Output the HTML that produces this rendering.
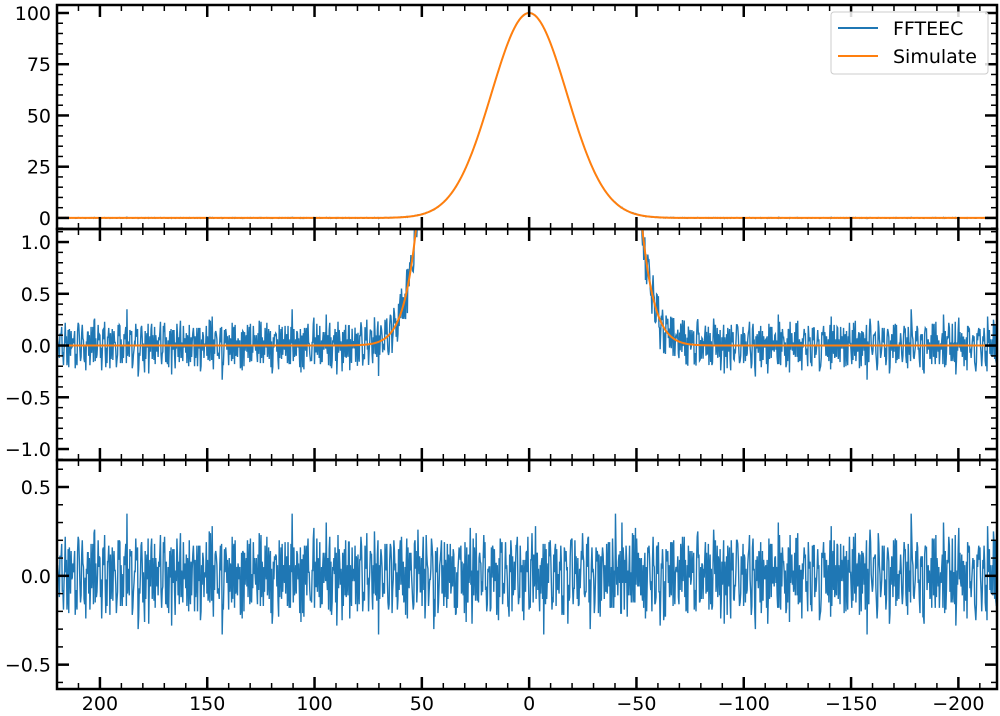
<!DOCTYPE html>
<html><head><meta charset="utf-8">
<style>
html,body{margin:0;padding:0;background:#fff;}
svg{display:block;font-family:"DejaVu Sans","Liberation Sans",sans-serif;}
</style></head>
<body>
<svg id="chart" width="1000" height="716" viewBox="0 0 1000 716" xmlns="http://www.w3.org/2000/svg"></svg>
<script>
// ---- data ----
const xDomain = [220, -218];
const gaussAmplitude = 100;
const gaussCenter = 0;
const gaussSigma = 17.6;
const xTicks = [200, 150, 100, 50, 0, -50, -100, -150, -200];
const xTickLabels = ["200","150","100","50","0","\u221250","\u2212100","\u2212150","\u2212200"];
const p1Ticks = [0, 25, 50, 75, 100];
const p1Labels = ["0","25","50","75","100"];
const p2Ticks = [-1, -0.5, 0, 0.5, 1];
const p2Labels = ["\u22121.0","\u22120.5","0.0","0.5","1.0"];
const p3Ticks = [-0.5, 0, 0.5];
const p3Labels = ["\u22120.5","0.0","0.5"];
const residuals = [
0.05,-0.12,0.18,-0.03,0.09,-0.21,0.14,0.02,-0.08,0.22,-0.15,0.07,-0.01,0.13,-0.19,0.04,0.26,-0.09,0.11,-0.24,
0.06,-0.02,0.17,-0.13,0.08,-0.05,0.2,-0.17,0.01,0.12,-0.1,0.15,-0.22,0.03,0.09,-0.07,0.19,-0.14,0.05,-0.27,
0.16,-0.04,0.1,-0.11,0.23,-0.06,0.02,-0.18,0.14,0.07,-0.09,0.21,-0.16,0.03,-0.02,0.12,-0.2,0.08,0.17,-0.12,
0.04,-0.25,0.13,-0.01,0.09,-0.15,0.28,-0.08,0.06,-0.13,0.18,-0.03,0.11,-0.19,0.02,0.15,-0.1,0.07,-0.22,0.14,
-0.05,0.2,-0.16,0.01,0.1,-0.07,0.24,-0.12,0.05,-0.02,0.16,-0.21,0.08,0.12,-0.14,0.03,-0.09,0.19,-0.17,0.06,
0.35,-0.11,0.14,-0.04,0.09,-0.23,0.17,0.02,-0.13,0.21,-0.06,0.1,-0.18,0.05,0.13,-0.08,0.22,-0.15,0.01,-0.28,
0.15,-0.03,0.08,-0.12,0.19,-0.07,0.04,-0.16,0.12,0.09,-0.2,0.17,-0.05,0.02,-0.1,0.25,-0.14,0.06,0.11,-0.09,
0.03,-0.19,0.16,-0.02,0.07,-0.13,0.2,-0.11,0.05,-0.24,0.13,-0.06,0.18,-0.15,0.01,0.1,-0.08,0.23,-0.17,0.04,
-0.03,0.14,-0.21,0.09,0.06,-0.12,0.18,-0.04,0.11,-0.18,0.02,0.16,-0.1,0.07,-0.26,0.12,-0.05,0.21,-0.14,0.03,
0.08,-0.09,0.19,-0.16,0.05,-0.01,0.15,-0.22,0.1,0.13,-0.07,0.04,-0.17,0.2,-0.11,0.06,-0.03,0.17,-0.2,0.09,
0.02,-0.14,0.24,-0.06,0.12,-0.1,0.07,-0.33,0.15,-0.04,0.1,-0.15,0.18,-0.08,0.03,-0.19,0.13,0.05,-0.12,0.21,
-0.07,0.01,-0.16,0.14,0.08,-0.09,0.22,-0.13,0.04,-0.02,0.11,-0.23,0.16,0.06,-0.1,0.19,-0.18,0.03,-0.05,0.12,
-0.21,0.09,0.17,-0.11,0.02,-0.15,0.27,-0.06,0.08,-0.14,0.13,-0.03,0.1,-0.2,0.05,0.16,-0.09,0.07,-0.25,0.15,
-0.04,0.19,-0.17,0.02,0.11,-0.08,0.22,-0.12,0.06,-0.01,0.14,-0.19,0.09,0.12,-0.13,0.04,-0.1,0.18,-0.16,0.07,
0.2,-0.12,0.15,-0.05,0.08,-0.22,0.16,0.03,-0.14,0.2,-0.07,0.11,-0.17,0.04,0.12,-0.09,0.21,-0.3,0.02,-0.15,
0.14,-0.02,0.09,-0.13,0.18,-0.06,0.05,-0.18,0.13,0.08,-0.21,0.16,-0.04,0.03,-0.11,0.24,-0.15,0.07,0.1,-0.08,
0.04,-0.2,0.17,-0.03,0.06,-0.12,0.19,-0.1,0.06,-0.23,0.14,-0.07,0.17,-0.16,0.02,0.09,-0.09,0.22,-0.18,0.05,
-0.02,0.13,-0.2,0.1,0.05,-0.13,0.19,-0.05,0.12,-0.17,0.01,0.17,-0.11,0.08,-0.27,0.11,-0.06,0.2,-0.13,0.04,
0.09,-0.1,0.18,-0.15,0.06,-0.02,0.16,-0.21,0.11,0.12,-0.08,0.03,-0.18,0.21,-0.12,0.05,-0.04,0.3,-0.19,0.08,
0.03,-0.15,0.23,-0.05,0.13,-0.11,0.06,-0.24,0.16,-0.03,0.09,-0.16,0.17,-0.09,0.04,-0.2,0.12,0.06,-0.11,0.2
];
// denser sampling: interleave several passes over the measured residuals
const passOffsets = [0, 137, 263, 71];

// ---- layout ----
const NS = "http://www.w3.org/2000/svg";
const svg = document.getElementById("chart");
const L = 57, R = 997;
const panels = [
  {top:5, bottom:229, dom:[-5.4,103.9], ticks:p1Ticks, labels:p1Labels, minor:5, name:"top-panel"},
  {top:229, bottom:460, dom:[-1.106,1.126], ticks:p2Ticks, labels:p2Labels, minor:0.1, name:"middle-panel"},
  {top:460, bottom:689, dom:[-0.637,0.652], ticks:p3Ticks, labels:p3Labels, minor:0.1, name:"bottom-panel"}
];
const N = residuals.length;
const dense = [];
for(let i=0;i<N;i++){ passOffsets.forEach(o=>dense.push(residuals[(i+o)%N])); }
function xs(v){ return L + (xDomain[0]-v)/(xDomain[0]-xDomain[1])*(R-L); }
function ysFor(p){ return v => p.bottom - (v-p.dom[0])/(p.dom[1]-p.dom[0])*(p.bottom-p.top); }
function mk(tag, attrs, parent){ const e=document.createElementNS(NS,tag); for(const k in attrs) e.setAttribute(k,attrs[k]); (parent||svg).appendChild(e); return e; }
function gauss(x){ return gaussAmplitude*Math.exp(-((x-gaussCenter)**2)/(2*gaussSigma*gaussSigma)); }
function xAt(i){ return xDomain[0] + (xDomain[1]-xDomain[0])*i/(dense.length-1); }

const defs = mk("defs",{});
panels.forEach((p,pi)=>{
  const cp = mk("clipPath",{id:"clip"+pi},defs);
  mk("rect",{x:L,y:p.top,width:R-L,height:p.bottom-p.top},cp);
});

panels.forEach((p,pi)=>{
  const y = ysFor(p);
  const g = mk("g",{"clip-path":"url(#clip"+pi+")"});
  
  
  if(pi<2){
    let d="";
    dense.forEach((r,i)=>{ const xv=xAt(i); const v=gauss(xv)+(pi===0? r*0.8 : r); d+=(i?"L":"M")+xs(xv).toFixed(2)+","+y(v).toFixed(2); });
    const ff = mk("path",{d:d,fill:"none",stroke:"#1f77b4","stroke-width":1.4},g);
    
    
    let ds="";
    for(let i=0;i<=600;i++){ const xv=xDomain[0]+(xDomain[1]-xDomain[0])*i/600; ds+=(i?"L":"M")+xs(xv).toFixed(2)+","+y(gauss(xv)).toFixed(2); }
    const sim = mk("path",{d:ds,fill:"none",stroke:"#ff7f0e","stroke-width":2},g);
    
    
  } else {
    let d="";
    dense.forEach((r,i)=>{ d+=(i?"L":"M")+xs(xAt(i)).toFixed(2)+","+y(r).toFixed(2); });
    const res = mk("path",{d:d,fill:"none",stroke:"#1f77b4","stroke-width":1.4},g);
    
    
  }
  const fr = mk("rect",{x:L,y:p.top,width:R-L,height:p.bottom-p.top,fill:"none",stroke:"#000","stroke-width":2.5});
  
  
  for(let v=-210; v<=220; v+=10){
    const X=xs(v); if(X<L+1||X>R-1) continue;
    const major = v%50===0; const len = major?12:6; const w = major?2.5:1.5;
    mk("line",{x1:X,x2:X,y1:p.bottom,y2:p.bottom-len,stroke:"#000","stroke-width":w});
    mk("line",{x1:X,x2:X,y1:p.top,y2:p.top+len,stroke:"#000","stroke-width":w});
  }
  const n0=Math.ceil(p.dom[0]/p.minor), n1=Math.floor(p.dom[1]/p.minor);
  for(let k=n0;k<=n1;k++){
    const v=k*p.minor; const Y=y(v);
    mk("line",{x1:L,x2:L+6,y1:Y,y2:Y,stroke:"#000","stroke-width":1.5});
    mk("line",{x1:R,x2:R-6,y1:Y,y2:Y,stroke:"#000","stroke-width":1.5});
  }
  p.ticks.forEach((v,i)=>{
    const Y=y(v);
    mk("line",{x1:L,x2:L+12,y1:Y,y2:Y,stroke:"#000","stroke-width":2.5});
    mk("line",{x1:R,x2:R-12,y1:Y,y2:Y,stroke:"#000","stroke-width":2.5});
    const t = mk("text",{x:L-6,y:Y+7,"text-anchor":"end","font-size":19,fill:"#000"});
    t.textContent = p.labels[i];
    
    
  });
});
xTicks.forEach((v,i)=>{
  const t = mk("text",{x:xs(v),y:710,"text-anchor":"middle","font-size":19,fill:"#000"});
  t.textContent = xTickLabels[i];
  
  
});
const lg = mk("g",{});


mk("rect",{x:831,y:12,width:157,height:62,rx:3,fill:"#fff","fill-opacity":0.85,stroke:"#ccc","stroke-width":1},lg);
mk("line",{x1:838,x2:878,y1:28,y2:28,stroke:"#1f77b4","stroke-width":2},lg);
mk("line",{x1:838,x2:878,y1:56,y2:56,stroke:"#ff7f0e","stroke-width":2},lg);
const t1 = mk("text",{x:893,y:35,"font-size":19,fill:"#000"},lg); t1.textContent="FFTEEC";


const t2 = mk("text",{x:893,y:63,"font-size":19,fill:"#000"},lg); t2.textContent="Simulate";


</script>
</body></html>
